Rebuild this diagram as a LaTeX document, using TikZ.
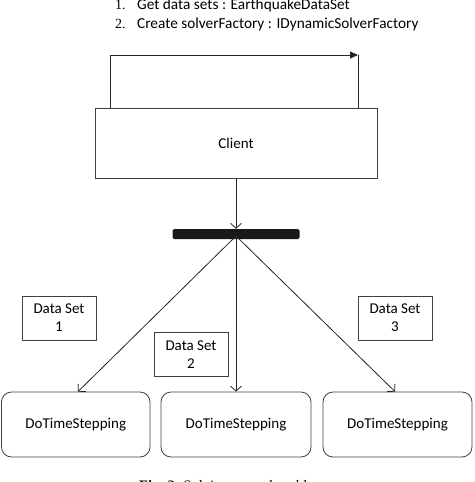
\documentclass[tikz,border=0pt]{standalone}
\usepackage{fontspec}
\setmainfont{Carlito}
\newfontfamily\seriffont{Liberation Serif}
\usetikzlibrary{arrows.meta}
\tikzset{
  box/.style={draw=black!75, line width=0.8pt, minimum width=282pt, minimum height=70pt, font=\fontsize{15}{18}\selectfont},
  dsbox/.style={draw=black!75, line width=0.8pt, minimum width=74pt, minimum height=44pt, align=center, inner sep=0pt, font=\fontsize{15}{18}\selectfont},
  dtsbox/.style={draw=black!75, line width=0.8pt, rounded corners=10pt, minimum height=65pt, font=\fontsize{15}{18}\selectfont},
  bar/.style={fill=black!90, rounded corners=1.5pt, minimum width=127pt, minimum height=10pt, inner sep=0pt},
  conn/.style={draw=black!85, line width=0.8pt, -{Straight Barb[length=5pt,width=11pt,line width=0.8pt]}},
  loopline/.style={draw=black!85, line width=0.8pt},
  listtxt/.style={font=\fontsize{15.3}{18}\selectfont, anchor=base west, inner sep=0pt},
  numtxt/.style={font=\seriffont\fontsize{14}{18}\selectfont, anchor=base west, inner sep=0pt},
}
\begin{document}
\begin{tikzpicture}[x=1pt,y=-1pt]
\useasboundingbox (0,0) rectangle (474,482);
\clip (0,0) rectangle (474,482);
% list
\node[numtxt] (n1) at (115,9) {1.};
\node[listtxt] (t1) at (137,9) {Get data sets : EarthquakeDataSet};
\node[numtxt] (n2) at (115,28) {2.};
\node[listtxt] (t2) at (137,28) {Create solverFactory : IDynamicSolverFactory};
% client
\node[box] (client) at (236,143) {Client};
\coordinate (ltop) at (110,55);
\coordinate (rtop) at (358,55);
\draw[loopline] (client.north -| ltop) -- (ltop);
\draw[loopline, -{Triangle[length=8pt,width=7pt]}] (ltop) -- (rtop);
\draw[loopline] (rtop) -- (client.north -| rtop);
% bar
\node[bar] (bar) at (236,234) {};
\draw[conn] (client.south) -- (bar.north);
% data sets
\node[dsbox] (ds1) at (59,318) {Data Set\\1};
\node[dsbox] (ds2) at (191,354.5) {Data Set\\2};
\node[dsbox] (ds3) at (395,318) {Data Set\\3};
% DoTimeStepping
\node[dtsbox, minimum width=148.5pt] (d1) at (75.75,424.5) {DoTimeStepping};
\node[dtsbox, minimum width=150pt] (d2) at (236,424.5) {DoTimeStepping};
\node[dtsbox, minimum width=149pt] (d3) at (397.5,424.5) {DoTimeStepping};
\coordinate (bc) at (236,236);
\coordinate (xl) at (78,0);
\coordinate (xr) at (395,0);
\draw[conn] (bc) -- (d1.north -| xl);
\draw[conn] (bc) -- (d2.north);
\draw[conn] (bc) -- (d3.north -| xr);
% caption
\node[anchor=base, inner sep=0pt, font=\seriffont\fontsize{14.5}{17}\selectfont] (cap) at (235,490) {\textbf{Fig. 2.} Solving several problems};
\end{tikzpicture}
\end{document}
